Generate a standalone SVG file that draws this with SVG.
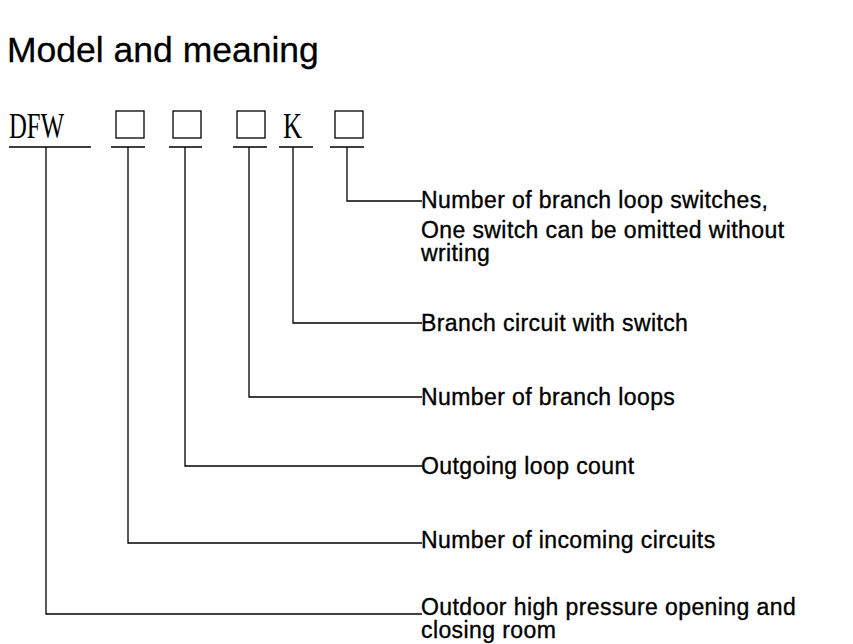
<svg xmlns="http://www.w3.org/2000/svg" width="853" height="644" viewBox="0 0 853 644">
<style>
.c{fill:none;stroke:#000;stroke-width:1.3}
.l{font-family:"Liberation Sans",Arial,sans-serif;font-size:23px;letter-spacing:0.4px;fill:#000;stroke:#000;stroke-width:0.35}
.m{font-family:"Liberation Serif",serif;font-size:35px;fill:#000}
.b{fill:none;stroke:#000;stroke-width:1.3}
</style>
<rect width="853" height="644" fill="#fff"/>
<text x="7" y="62" font-family="Liberation Sans,Arial,sans-serif" font-size="35.5" stroke="#000" stroke-width="0.3">Model and meaning</text>
<g id="code">
<text class="m" x="9" y="138" textLength="55" lengthAdjust="spacingAndGlyphs">DFW</text>
<rect class="b" x="116" y="111" width="28" height="27"/>
<rect class="b" x="173" y="111" width="28" height="27"/>
<rect class="b" x="237" y="111" width="28" height="27"/>
<text class="m" x="283" y="138" textLength="19" lengthAdjust="spacingAndGlyphs">K</text>
<rect class="b" x="335" y="111" width="28" height="27"/>
<path class="c" d="M9 147H91M111 147H145M169 147H202M233 147H267M279 147H313M330 147H364"/>
</g>
<g id="connectors">
<path class="c" d="M347 147V201H422"/>
<path class="c" d="M293 147V323H422"/>
<path class="c" d="M249 147V397H422"/>
<path class="c" d="M185 147V466H422"/>
<path class="c" d="M128 147V543H422"/>
<path class="c" d="M46 147V614H422"/>
</g>
<g id="n1"><text class="l" x="421" y="208">Number of branch loop switches,</text><text class="l" x="421" y="238">One switch can be omitted without</text><text class="l" x="421" y="261">writing</text></g>
<g id="n2"><text class="l" x="421" y="331">Branch circuit with switch</text></g>
<g id="n3"><text class="l" x="421" y="405">Number of branch loops</text></g>
<g id="n4"><text class="l" x="421" y="474">Outgoing loop count</text></g>
<g id="n5"><text class="l" x="421" y="548">Number of incoming circuits</text></g>
<g id="n6"><text class="l" x="421" y="615">Outdoor high pressure opening and</text><text class="l" x="421" y="638">closing room</text></g>
</svg>
